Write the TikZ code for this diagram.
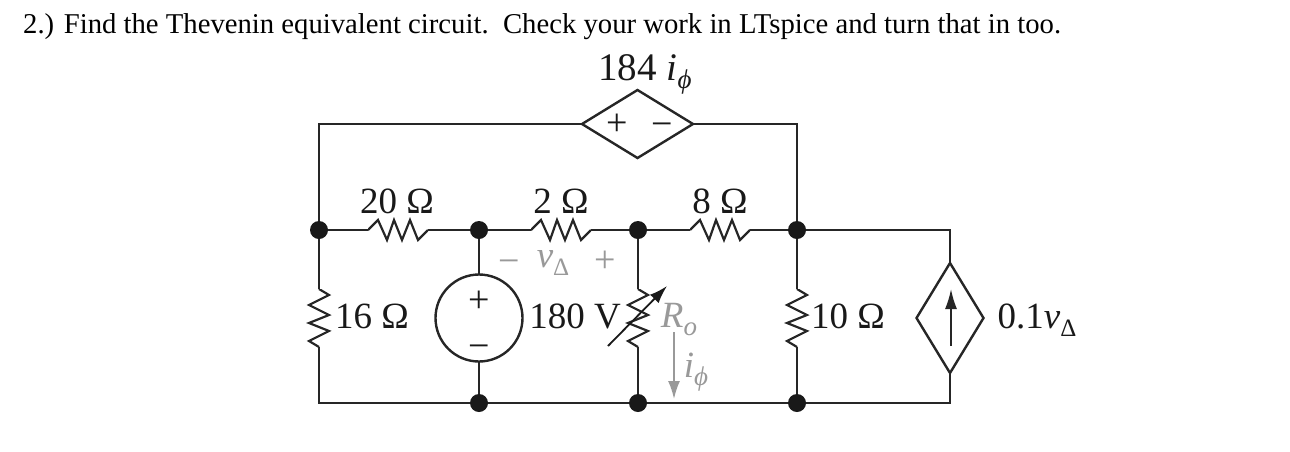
\documentclass[tikz,border=0pt]{standalone}
\usepackage{fontspec}
\setmainfont{Liberation Serif}
\usetikzlibrary{shapes.geometric, arrows, arrows.meta, positioning}

\newcommand{\sz}[1]{\fontsize{#1}{#1}\selectfont}
\newcommand{\sub}[1]{\raisebox{-8pt}{\sz{27}\itshape #1}}
\newcommand{\subup}[1]{\raisebox{-8pt}{\sz{25}#1}}

\begin{document}
\begin{tikzpicture}[x=1pt,y=-1pt,line join=miter]
\tikzstyle{wire} = [line width=2.2pt, draw=black!85]
\tikzstyle{dot} = [circle, fill=black!90, minimum size=18pt, inner sep=0pt, outer sep=0pt]
\tikzstyle{lbl} = [inner sep=0pt, font=\sz{37}, text=black!90]
\tikzstyle{glbl} = [inner sep=0pt, font=\sz{37}, text=black!40]
\tikzstyle{reshor} = [inner sep=0pt, outer sep=0pt, minimum width=60pt, minimum height=26pt,
  path picture={\draw[wire,shift={(path picture bounding box.center)}]
    (-30,0) -- (-20,-10) -- (-11,10) -- (-4,-10) -- (4,10) -- (12,-10) -- (20,10) -- (30,0);}]
\tikzstyle{resver} = [inner sep=0pt, outer sep=0pt, minimum width=26pt, minimum height=58pt,
  path picture={\draw[wire,shift={(path picture bounding box.center)}]
    (0,-29) -- (10,-23) -- (-10,-13) -- (10,-3) -- (-10,5) -- (10,13) -- (-10,23) -- (0,29);}]

\useasboundingbox (0,0) rectangle (1290,451);

% Title
\node[inner sep=0pt, anchor=west, font=\sz{28.7}] (title) at (23,27)
  {2.) Find the Thevenin equivalent circuit.\ \ Check your work in LTspice and turn that in too.};

% Nodes
\coordinate (tl) at (319,124);
\coordinate (tr) at (797,124);
\coordinate (bl) at (319,403);
\coordinate (rt) at (950,230);
\coordinate (rb) at (950,403);
\node[dot] (a) at (319,230) {};
\node[dot] (b) at (479,230) {};
\node[dot] (c) at (638,230) {};
\node[dot] (d) at (797,230) {};
\node[dot] (e) at (479,403) {};
\node[dot] (f) at (638,403) {};
\node[dot] (g) at (797,403) {};

% Resistors
\node[reshor] (r20) at (398,230) {};
\node[reshor] (r2) at (561,230) {};
\node[reshor] (r8) at (720,230) {};
\node[resver] (r16) at (319,318) {};
\node[resver] (ro) at (638,318) {};
\node[resver] (r10) at (797,318) {};

% Sources
\node[circle, wire, draw, line width=2.4pt, minimum size=87pt, inner sep=0pt, outer sep=0pt] (vs) at (479,318) {};
\node[diamond, wire, draw, line width=2.4pt, minimum width=111pt, minimum height=68pt, inner sep=0pt, outer sep=0pt] (hv) at (637.5,124) {};
\node[diamond, wire, draw, line width=2.4pt, minimum width=67pt, minimum height=110pt, inner sep=0pt, outer sep=0pt] (ci) at (950,318) {};

% Wires
\draw[wire] (a) -- (r20) -- (b) -- (r2) -- (c) -- (r8) -- (d);
\draw[wire] (a) -- (r16) -- (bl) -- (e) -- (f) -- (g) -- (rb) -- (ci) -- (rt) -- (d);
\draw[wire] (a) -- (tl) -- (hv) -- (tr) -- (d);
\draw[wire] (b) -- (vs) -- (e);
\draw[wire] (c) -- (ro) -- (f);
\draw[wire] (d) -- (r10) -- (g);

% Source marks
\node[lbl, font=\sz{38}] (vsp) at (479,302) {+};
\node[lbl, font=\sz{38}] (vsm) at (479,352) {\textminus};
\node[lbl, font=\sz{38}] (hvp) at (617,125) {+};
\node[lbl, font=\sz{38}] (hvm) at (662,130) {\textminus};
\coordinate (cia) at (951,346);
\coordinate (cib) at (951,289);
\draw[line width=1.8pt, draw=black!85, -{Latex[length=20pt,width=12pt]}] (cia) -- (cib);
\coordinate (roa) at (608,346);
\coordinate (rob) at (667,286);
\draw[line width=1.8pt, draw=black!90, -{Latex[length=18pt,width=12pt]}] (roa) -- (rob);
\coordinate (ifa) at (674,332);
\coordinate (ifb) at (674,399);
\draw[line width=1.8pt, draw=black!40, -{Latex[length=18pt,width=12pt]}] (ifa) -- (ifb);

% Labels
\node[lbl, font=\sz{39}] (l184) at (645,74) {184 \textit{i}\sub{ϕ}};
\node[lbl] (l20) at (397,201) {20 Ω};
\node[lbl] (l2) at (561,201) {2 Ω};
\node[lbl] (l8) at (720,201) {8 Ω};
\node[lbl] (l16) at (372,316) {16 Ω};
\node[lbl] (l180) at (575,316) {180 V};
\node[lbl] (l10) at (848,316) {10 Ω};
\node[lbl] (l01) at (1037,320) {0.1\textit{v}\subup{Δ}};
\node[glbl, font=\sz{38}] (lm) at (509,267) {\textminus};
\node[glbl] (lv) at (553,263) {\textit{v}\subup{Δ}};
\node[glbl, font=\sz{38}] (lp) at (605,262) {+};
\node[glbl] (lro) at (679,320) {\textit{R}\sub{o}};
\node[glbl] (lif) at (696,372) {\textit{i}\sub{ϕ}};
\end{tikzpicture}
\end{document}
